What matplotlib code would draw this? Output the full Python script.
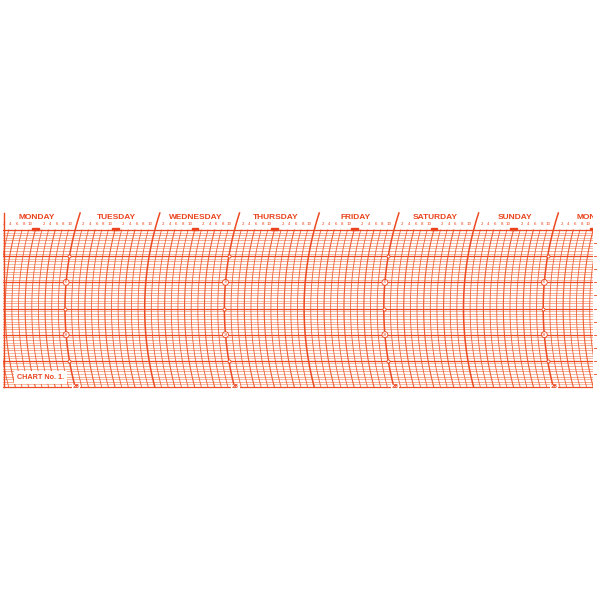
import numpy as np
import matplotlib
matplotlib.use("Agg")
import matplotlib.pyplot as plt
from matplotlib.patches import Rectangle

# ---- chart content ----
days = ["MONDAY", "TUESDAY", "WEDNESDAY", "THURSDAY", "FRIDAY",
        "SATURDAY", "SUNDAY", "MONDAY"]
hour_labels = ["2", "4", "6", "8", "10"]
hour_label_values = [2, 4, 6, 8, 10]
pressure_major = [28.0, 28.5, 29.0, 29.5, 30.0, 30.5, 31.0]
pressure_minor_step = 0.05
scale_circled = [30.0, 29.0]
scale_small = [30.5, 29.5, 28.5]
scale_bottom = ["28"]
marked_midnights = [24, 72, 120, 168]
chart_title = "CHART No. 1."

# ---- geometry (pixels of a 600x600 figure) ----
PPH = 79.7 / 24.0        # pixels per hour
PPI = 157.0 / 3.0        # pixels per inch of mercury
R = 309.0                # pen-arm radius in pixels
PMID = 29.5
T0_PX = 65.0 - 24 * PPH  # x pixel of t=0 at mid height


def t_of_px(x):
    return (x - T0_PX) / PPH


def p_of_py(y):
    return 31.0 - (y - 230.0) / PPI


def arc_dt(p):
    dy = (np.asarray(p) - PMID) * PPI
    return (R - np.sqrt(R ** 2 - dy ** 2)) / PPH


RED = "#e9441d"
THICK = "#ec4a22"
THIN = "#f48560"

fig = plt.figure(figsize=(6, 6), dpi=100)
ax = fig.add_axes([3 / 600, 1 - 400 / 600, 590 / 600, 200 / 600])
ax.set_xlim(t_of_px(3), t_of_px(593))
ax.set_ylim(p_of_py(400), p_of_py(200))
ax.axis("off")

p_top = 31.0
p_bot = 28.0

# horizontal pressure lines
n_minor = int(round((p_top - p_bot) / pressure_minor_step))
for i in range(n_minor + 1):
    p = p_bot + i * pressure_minor_step
    if any(abs(p - m) < 1e-6 for m in pressure_major):
        continue
    lw = 0.5 if i % 2 == 0 else 0.4
    ax.plot([-50, 250], [p, p], color=THIN, lw=lw, zorder=1)
for p in pressure_major:
    ax.plot([-50, 250], [p, p], color=THICK, lw=0.9, zorder=3)

# curved time lines
pp = np.linspace(p_bot, p_top, 80)
for t in range(-24, 200, 2):
    if t % 24 == 0:
        pm = np.linspace(p_bot, p_of_py(213), 90)
        ax.plot(t + arc_dt(pm), pm, color=THICK, lw=1.1, zorder=4)
    else:
        lw = 0.8 if t % 6 == 0 else 0.6
        ax.plot(t + arc_dt(pp), pp, color="#ee5f35", lw=lw, zorder=2)

# day names, hour labels, noon markers
p_day = p_of_py(217.5)
p_hour = p_of_py(224)
p_noon = p_of_py(229)
for k, name in enumerate(days):
    noon = 12 + 24 * k
    ax.text(noon + arc_dt(p_noon) + 0.3, p_day, name, ha="center",
            va="center", fontsize=6, fontweight="bold",
            family="Liberation Sans", color=RED, clip_on=True, zorder=6)
    for lab, hv in zip(hour_labels, hour_label_values):
        for base in (24 * k, noon):
            tt = base + hv
            ax.text(tt + arc_dt(p_hour), p_hour, lab, ha="center",
                    va="center", fontsize=2.9, color=RED, clip_on=True,
                    zorder=6)
    w = 2.0
    ax.add_patch(Rectangle((noon + arc_dt(p_noon) - w / 2, p_of_py(230.3)),
                           w, 2.6 / PPI, color=RED, zorder=6))

# scale markers on alternate midnight lines
for t in marked_midnights:
    for p in scale_circled:
        ax.text(t + arc_dt(p), p, f"{int(p)}", ha="center", va="center",
                fontsize=2.4, color=RED, zorder=7,
                bbox=dict(boxstyle="circle,pad=0.25", fc="white",
                          ec=RED, lw=0.6))
    for p in scale_small:
        ax.plot(t + arc_dt(p), p, marker="o", ms=2.2, mfc="white",
                mec=RED, mew=0.6, zorder=7)
    for lab in scale_bottom:
        pb = float(lab)
        ax.text(t + arc_dt(pb) + 0.3, pb, lab, ha="center",
                va="center", fontsize=3.6, fontweight="bold", color=RED,
                zorder=7, bbox=dict(boxstyle="square,pad=0.12", fc="white",
                                    ec="none"))

# left border
ax.plot([t_of_px(3.6), t_of_px(3.6)], [p_bot, p_of_py(213)], color=THICK,
        lw=1.0, zorder=5)

# right-edge ticks
for p in np.arange(28.25, 31.0, 0.25):
    ax.plot([t_of_px(594.5), t_of_px(596)], [p, p], color=RED, lw=0.6,
            clip_on=False, zorder=5)

# chart number
ax.text(t_of_px(17), p_of_py(377.5), chart_title, ha="left", va="center",
        fontsize=5.2, fontweight="bold", family="Liberation Sans", color=RED,
        zorder=8, bbox=dict(boxstyle="square,pad=0.35", fc="white",
                            ec="none"))

fig.savefig("out.png", dpi=100, facecolor="white")
